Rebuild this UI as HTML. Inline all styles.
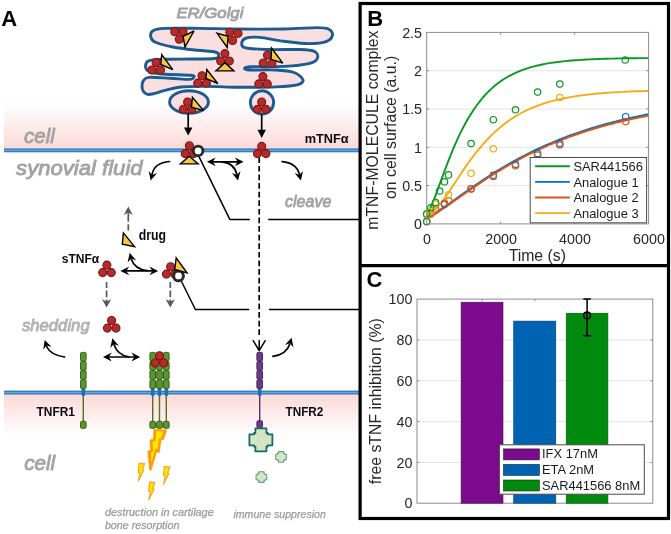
<!DOCTYPE html>
<html lang="en"><head><meta charset="utf-8"><title>Figure</title>
<style>
html,body{margin:0;padding:0;background:#fff}
svg{display:block}
text{font-family:"Liberation Sans",sans-serif}
.gi{font-style:italic;fill:#a3a3a3;stroke:#a3a3a3;stroke-width:0.85px;stroke-linejoin:round}
.gs{font-style:italic;fill:#9a9a9a;stroke:#9a9a9a;stroke-width:0.25px}
.bl{font-weight:bold;fill:#0a0a14}
.ax{fill:#262626;font-size:14.3px}
.lg{fill:#1a1a1a;font-size:12.9px}
.pl{font-weight:bold;fill:#000;font-size:22px}
</style></head><body>
<svg width="671" height="534" viewBox="0 0 671 534">
<defs>
<linearGradient id="gt" x1="0" y1="0" x2="0" y2="1"><stop offset="0" stop-color="#fbd9d8" stop-opacity="0"/><stop offset="1" stop-color="#fbd9d8"/></linearGradient>
<linearGradient id="gb" x1="0" y1="0" x2="0" y2="1"><stop offset="0" stop-color="#fbd9d8"/><stop offset="1" stop-color="#fbd9d8" stop-opacity="0"/></linearGradient>
<linearGradient id="gb2" x1="0" y1="0" x2="0" y2="1"><stop offset="0" stop-color="#fbd9d8" stop-opacity="0"/><stop offset="1" stop-color="#fbd9d8" stop-opacity="0.15"/></linearGradient>
</defs>
<rect width="671" height="534" fill="#fff"/>
<rect x="4" y="103" width="356" height="46" fill="url(#gt)"/>
<rect x="4" y="383" width="356" height="8" fill="url(#gb2)"/>
<rect x="4" y="394" width="356" height="41" fill="url(#gb)"/>
<path d="M150.7 36.4C150.4 34.5 150.8 32 153.1 30.7C155.4 29.4 156.8 28.8 164.6 28.4C172.4 28 188.3 28.3 200 28.4C211.7 28.5 221 28.9 235 29C249 29.1 270.3 29.2 284 29C297.7 28.8 309.6 27.6 317 27.6C324.4 27.6 325.8 27.8 328.4 29C331 30.2 332.8 32.8 332.5 34.8C332.2 36.8 330.8 39.8 326.8 41.3C322.9 42.8 315.9 43.6 308.8 43.6C301.7 43.6 292.4 42.3 284.2 41.3C276 40.3 265.9 37.9 259.6 37.4C253.3 36.9 249.5 37.1 246.5 38C243.5 38.9 242 41.4 241.8 43C241.6 44.6 241.2 46.8 245.5 47.9C249.8 49 258.6 49.2 267.8 49.5C277 49.8 293 49.2 300.6 49.5C308.2 49.8 310.8 49.9 313.7 51.1C316.6 52.3 318.1 55 317.8 56.9C317.5 58.8 316.2 61.1 312 62.6C307.8 64.1 299.8 65.2 292.4 65.9C285 66.6 274.9 66.6 267.8 66.7C260.7 66.8 253.9 66.4 250 66.7C246.1 67 244.5 67.9 244.5 68.4C244.5 69 244.8 69.7 250 70C255.2 70.3 268.7 69.6 276 70C283.3 70.4 289.5 70.9 294 72.5C298.5 74.1 302.4 77.8 303 79.8C303.6 81.8 301.8 83.6 297.3 84.8C292.8 86 283.6 86.5 276 86.9C268.4 87.3 258.2 87.2 251.4 87.2C244.6 87.2 242.6 87.3 235 87.2C227.4 87.1 214.6 86.4 205.6 86.4C196.6 86.4 187.8 86.3 181 87C174.2 87.7 169.5 89.2 165 90.3C160.5 91.4 156.9 92.9 154 93.6C151.1 94.3 149.3 94.8 147.5 94.4C145.7 94 144.2 92.7 143.3 91.3C142.4 89.9 142 87.8 142 86C142 84.2 142.3 81.9 143.5 80.5C144.7 79.1 144.6 77.8 149 77.4C153.4 77 163.3 77.9 170 78.2C176.7 78.5 185.3 79.5 189.2 79.4C193.1 79.3 193.3 78.1 193.6 77.4C193.9 76.7 195.6 75.7 190.8 75.2C186 74.7 171.3 74.7 164.6 74.2C157.9 73.7 153.6 73.3 150.5 72.4C147.4 71.5 147 70.2 146.2 69C145.4 67.8 145.4 66.2 145.6 65C145.8 63.8 146.3 62.4 147.5 61.5C148.7 60.6 150.2 60.3 153 59.9C155.8 59.5 158.4 59.4 164.6 59.3C170.8 59.1 181.7 59.1 190 59C198.3 58.9 209.7 59.1 214.5 58.5C219.3 57.9 218.6 56.3 218.7 55.2C218.8 54.1 218.6 52.8 215 52C211.4 51.2 204.4 51.1 197.4 50.3C190.4 49.5 179.9 48.4 172.8 47C165.7 45.6 158.7 43.8 155 42C151.3 40.2 151 38.3 150.7 36.4Z" fill="#f9dfdf" stroke="#1b5b90" stroke-width="2.9" stroke-linejoin="round"/>
<ellipse cx="189" cy="102" rx="19.4" ry="11.3" fill="#f9dfdf" stroke="#1b5b90" stroke-width="2.9"/>
<circle cx="262" cy="102.4" r="11.6" fill="#f9dfdf" stroke="#1b5b90" stroke-width="2.9"/>
<rect x="4" y="148.4" width="356" height="3.9" fill="#2f7fc3"/><rect x="4" y="149.8" width="356" height="1" fill="#72b0dc"/>
<rect x="4" y="390.6" width="356" height="3.9" fill="#2f7fc3"/><rect x="4" y="392.1" width="356" height="1" fill="#72b0dc"/>
<text x="176.4" y="18.1" class="gi" font-size="14.5" textLength="67" lengthAdjust="spacingAndGlyphs">ER/Golgi</text>
<text x="24.1" y="143" class="gi" font-size="19.5" textLength="30.7" lengthAdjust="spacingAndGlyphs">cell</text>
<text x="16.1" y="175.2" class="gi" font-size="20" textLength="126.5" lengthAdjust="spacingAndGlyphs">synovial fluid</text>
<text x="285" y="206.5" class="gi" font-size="17" textLength="46.3" lengthAdjust="spacingAndGlyphs">cleave</text>
<text x="21.9" y="331.4" class="gi" font-size="16.5" textLength="67.8" lengthAdjust="spacingAndGlyphs" style="fill:#b2b2b2;stroke:#b2b2b2">shedding</text>
<text x="24.3" y="470.1" class="gi" font-size="19.5" textLength="30.9" lengthAdjust="spacingAndGlyphs">cell</text>
<text x="104.9" y="515.5" class="gs" font-size="10.5" textLength="108.8" lengthAdjust="spacingAndGlyphs">destruction in cartilage</text>
<text x="104.9" y="529" class="gs" font-size="10.5" textLength="74.5" lengthAdjust="spacingAndGlyphs">bone resorption</text>
<text x="233.4" y="518" class="gs" font-size="10.5" textLength="92.5" lengthAdjust="spacingAndGlyphs">immune suppresion</text>
<text x="304.7" y="143.4" class="bl" font-size="12.2" textLength="43.9" lengthAdjust="spacingAndGlyphs">mTNFα</text>
<text x="138.7" y="239.6" class="bl" font-size="14" textLength="27.3" lengthAdjust="spacingAndGlyphs">drug</text>
<text x="61.7" y="263" class="bl" font-size="12" textLength="37.5" lengthAdjust="spacingAndGlyphs">sTNFα</text>
<text x="36.5" y="416.4" class="bl" font-size="12.3" textLength="38.4" lengthAdjust="spacingAndGlyphs">TNFR1</text>
<text x="285.5" y="416" class="bl" font-size="12.3" textLength="37.8" lengthAdjust="spacingAndGlyphs">TNFR2</text>
<text x="1.3" y="26.4" class="pl" font-size="22">A</text>
<g fill="none" stroke="#000" stroke-width="1.7" stroke-linecap="round" stroke-linejoin="round">
<path d="M188.2 113.6V129M261.7 114.6V131"/>
<path d="M199 156.6L229.8 219.4H249.9M268.2 219.4H359M181.5 281.5L195.4 309.5H249.2M269 309.5H359" stroke-linecap="butt" stroke-width="1.5"/>
<path d="M259.2 157.3V336" stroke-dasharray="5.7 2.9" stroke-linecap="butt" stroke-width="1.7"/>
<path d="M259.2 340.6V350M253.2 340.7L259.2 350.6L265.2 340.7" stroke-width="1.5"/>
<path d="M169.5 161.5Q154.5 162.5 152 174.5"/><path d="M150.7 180.6L148.6 171L152.1 175L157.1 173.1Z" fill="#000" stroke="none"/>
<path d="M212 161.8H238.5"/><path d="M206.9 161.8L215.7 157.4L212.7 161.8L215.7 166.2Z" fill="#000" stroke="none"/><path d="M243.6 161.8L234.8 166.2L237.8 161.8L234.8 157.4Z" fill="#000" stroke="none"/>
<path d="M222 161.8Q234.5 163 236.8 174.5"/><path d="M238 180.6L231.9 172.9L236.8 174.9L240.5 171.1Z" fill="#000" stroke="none"/>
<path d="M282.1 161.7Q296.5 163 299.5 174.5"/><path d="M300.9 180.6L294.5 173.1L299.5 175L303 171Z" fill="#000" stroke="none"/>
<path d="M126 270.9H153"/><path d="M120.4 270.9L129.2 266.5L126.2 270.9L129.2 275.3Z" fill="#000" stroke="none"/><path d="M158.2 270.9L149.4 275.3L152.4 270.9L149.4 266.5Z" fill="#000" stroke="none"/>
<path d="M147 270.6Q134.5 269 131.2 259"/><path d="M129.7 252.8L136.1 260.3L131.1 258.4L127.6 262.4Z" fill="#000" stroke="none"/>
<path d="M64.7 357Q50.5 355 46.6 346.5"/><path d="M44.7 340L51.6 347L46.5 345.5L43.2 349.7Z" fill="#000" stroke="none"/>
<path d="M108 357H135"/><path d="M103 357L111.8 352.6L108.8 357L111.8 361.4Z" fill="#000" stroke="none"/><path d="M140.2 357L131.4 361.4L134.4 357L131.4 352.6Z" fill="#000" stroke="none"/>
<path d="M128.5 356.8Q117.5 355 114 344.5"/><path d="M112.4 338.3L118.8 345.8L113.8 343.9L110.3 347.9Z" fill="#000" stroke="none"/>
<path d="M272.9 356.3Q286.5 354.5 289.8 344"/><path d="M291.6 337.7L293.4 347.4L290 343.3L284.9 344.9Z" fill="#000" stroke="none"/>
</g>
<path d="M188.2 135.5L184 127.6H192.4ZM261.7 138L257.5 129.8H265.9Z" fill="#000"/>
<g fill="none" stroke="#595959" stroke-width="1.7" stroke-linecap="round" stroke-linejoin="round">
<path d="M128.3 230.4V224.3M128.3 221.8V212" stroke-linecap="butt"/><path d="M128.3 206.6L132.8 215L128.3 212.6L123.8 215Z" fill="#595959" stroke="none"/>
<path d="M106.6 282V288M106.6 290.6V297.2M106.6 299.5V302" stroke-linecap="butt"/><path d="M106.6 307.4L102 299.2L106.6 301.4L111.2 299.2Z" fill="#595959" stroke="none"/>
<path d="M170.3 282V288M170.3 290.6V297.2M170.3 299.5V302" stroke-linecap="butt"/><path d="M170.3 307.4L165.7 299.2L170.3 301.4L174.9 299.2Z" fill="#595959" stroke="none"/>
</g>
<path d="M83.3 395V422" stroke="#5a6e1e" stroke-width="1.4"/><rect x="81.5" y="388.2" width="3.6" height="8" rx="1.4" fill="#1f6fb5"/><rect x="80.5" y="352.4" width="5.6" height="8.7" rx="1.3" fill="#5a9433" stroke="#376619" stroke-width="1"/><rect x="80.5" y="361.5" width="5.6" height="8.7" rx="1.3" fill="#5a9433" stroke="#376619" stroke-width="1"/><rect x="80.5" y="370.6" width="5.6" height="8.7" rx="1.3" fill="#5a9433" stroke="#376619" stroke-width="1"/><rect x="80.5" y="379.8" width="5.6" height="8.7" rx="1.3" fill="#5a9433" stroke="#376619" stroke-width="1"/><rect x="80.5" y="421.3" width="5.6" height="7" rx="1.3" fill="#5a9433" stroke="#376619" stroke-width="1"/>
<path d="M152.7 395V422" stroke="#5a6e1e" stroke-width="1.4"/><rect x="150.9" y="388.2" width="3.6" height="8" rx="1.4" fill="#1f6fb5"/><rect x="149.9" y="352.4" width="5.6" height="8.7" rx="1.3" fill="#5a9433" stroke="#376619" stroke-width="1"/><rect x="149.9" y="361.5" width="5.6" height="8.7" rx="1.3" fill="#5a9433" stroke="#376619" stroke-width="1"/><rect x="149.9" y="370.6" width="5.6" height="8.7" rx="1.3" fill="#5a9433" stroke="#376619" stroke-width="1"/><rect x="149.9" y="379.8" width="5.6" height="8.7" rx="1.3" fill="#5a9433" stroke="#376619" stroke-width="1"/><rect x="149.9" y="421.3" width="5.6" height="7" rx="1.3" fill="#5a9433" stroke="#376619" stroke-width="1"/>
<path d="M159.5 395V422" stroke="#5a6e1e" stroke-width="1.4"/><rect x="157.7" y="388.2" width="3.6" height="8" rx="1.4" fill="#1f6fb5"/><rect x="156.7" y="352.4" width="5.6" height="8.7" rx="1.3" fill="#5a9433" stroke="#376619" stroke-width="1"/><rect x="156.7" y="361.5" width="5.6" height="8.7" rx="1.3" fill="#5a9433" stroke="#376619" stroke-width="1"/><rect x="156.7" y="370.6" width="5.6" height="8.7" rx="1.3" fill="#5a9433" stroke="#376619" stroke-width="1"/><rect x="156.7" y="379.8" width="5.6" height="8.7" rx="1.3" fill="#5a9433" stroke="#376619" stroke-width="1"/><rect x="156.7" y="421.3" width="5.6" height="7" rx="1.3" fill="#5a9433" stroke="#376619" stroke-width="1"/>
<path d="M166.3 395V422" stroke="#5a6e1e" stroke-width="1.4"/><rect x="164.5" y="388.2" width="3.6" height="8" rx="1.4" fill="#1f6fb5"/><rect x="163.5" y="352.4" width="5.6" height="8.7" rx="1.3" fill="#5a9433" stroke="#376619" stroke-width="1"/><rect x="163.5" y="361.5" width="5.6" height="8.7" rx="1.3" fill="#5a9433" stroke="#376619" stroke-width="1"/><rect x="163.5" y="370.6" width="5.6" height="8.7" rx="1.3" fill="#5a9433" stroke="#376619" stroke-width="1"/><rect x="163.5" y="379.8" width="5.6" height="8.7" rx="1.3" fill="#5a9433" stroke="#376619" stroke-width="1"/><rect x="163.5" y="421.3" width="5.6" height="7" rx="1.3" fill="#5a9433" stroke="#376619" stroke-width="1"/>
<path d="M259.7 395V422" stroke="#5a2f72" stroke-width="1.4"/><rect x="257.9" y="388.2" width="3.6" height="8" rx="1.4" fill="#1f6fb5"/><rect x="256.9" y="352.4" width="5.6" height="8.7" rx="1.3" fill="#6c3b86" stroke="#4a2560" stroke-width="1"/><rect x="256.9" y="361.5" width="5.6" height="8.7" rx="1.3" fill="#6c3b86" stroke="#4a2560" stroke-width="1"/><rect x="256.9" y="370.6" width="5.6" height="8.7" rx="1.3" fill="#6c3b86" stroke="#4a2560" stroke-width="1"/><rect x="256.9" y="379.8" width="5.6" height="8.7" rx="1.3" fill="#6c3b86" stroke="#4a2560" stroke-width="1"/><rect x="256.9" y="420.8" width="5.6" height="7" rx="1.3" fill="#6c3b86" stroke="#4a2560" stroke-width="1"/>
<g fill="#b62a2a" stroke="#7c1515" stroke-width="1.1">
<circle cx="174.8" cy="31.8" r="4.0"/><circle cx="183" cy="31.8" r="4.0"/><circle cx="179.3" cy="39.3" r="4.0"/>
<circle cx="229.8" cy="32.3" r="4.0"/><circle cx="238" cy="33.4" r="4.0"/><circle cx="232.6" cy="40.5" r="4.0"/>
<circle cx="224.9" cy="53.6" r="4.0"/><circle cx="220.7" cy="61" r="4.0"/><circle cx="229.3" cy="61" r="4.0"/>
<circle cx="156.1" cy="62.6" r="4.0"/><circle cx="151.8" cy="70" r="4.0"/><circle cx="160.5" cy="70" r="4.0"/>
<circle cx="202" cy="75.7" r="4.0"/><circle cx="197.7" cy="83.1" r="4.0"/><circle cx="206.4" cy="83.1" r="4.0"/>
<circle cx="267.5" cy="55.2" r="4.0"/><circle cx="263.2" cy="63" r="4.0"/><circle cx="271.9" cy="63.4" r="4.0"/>
<circle cx="262.9" cy="76.6" r="4.0"/><circle cx="258.8" cy="83.9" r="4.0"/><circle cx="267.3" cy="83.9" r="4.0"/>
<circle cx="187.6" cy="102" r="4.0"/><circle cx="183.4" cy="109.2" r="4.0"/><circle cx="191.8" cy="109.2" r="4.0"/>
<circle cx="261.7" cy="102" r="4.0"/><circle cx="257.5" cy="109.2" r="4.0"/><circle cx="265.9" cy="109.2" r="4.0"/>
<circle cx="189.4" cy="145.8" r="4.0"/><circle cx="185.2" cy="153.6" r="4.0"/><circle cx="193.6" cy="153.6" r="4.0"/>
<circle cx="261.7" cy="146.4" r="4.0"/><circle cx="257.5" cy="153.6" r="4.0"/><circle cx="265.9" cy="153.6" r="4.0"/>
<circle cx="106.9" cy="265.1" r="4.0"/><circle cx="102.7" cy="272.6" r="4.0"/><circle cx="111.3" cy="272.6" r="4.0"/>
<circle cx="170.6" cy="266.8" r="4.0"/><circle cx="166.4" cy="274.1" r="4.0"/><circle cx="174.8" cy="274.1" r="4.0"/>
<circle cx="111.6" cy="320.5" r="4.0"/><circle cx="107.4" cy="328.1" r="4.0"/><circle cx="116" cy="328.1" r="4.0"/>
<circle cx="159.5" cy="355.8" r="4.0"/><circle cx="155.2" cy="363" r="4.0"/><circle cx="163.7" cy="363" r="4.0"/>
</g>
<circle cx="198.1" cy="150.9" r="4.8" fill="#fff" stroke="#2a2a2a" stroke-width="2.9"/><circle cx="178.5" cy="275.9" r="4.9" fill="#fff" stroke="#2a2a2a" stroke-width="3"/>
<g fill="#f7c744" stroke="#000" stroke-width="1.4" stroke-linejoin="miter" stroke-miterlimit="3">
<path d="M194 31L183.1 36.4L185 46.9Z"/>
<path d="M217.1 33.3L228.1 36.3L227.2 47.5Z"/>
<path d="M215.9 70.9L233.9 70.9L224.9 62.8Z"/>
<path d="M161.7 54.7L160.8 64.5L172.8 69.7Z"/>
<path d="M206.8 69.5L205.9 78.3L217.8 83.5Z"/>
<path d="M271.5 48.1L271 59.3L282.8 63.1Z"/>
<path d="M192.4 97.2L191.5 107.3L203.6 110.6Z"/>
<path d="M180.3 163.9L198.2 163.9L189.3 156.3Z"/>
<path d="M123.4 232.9L122.3 244.3L134.6 246.6Z"/>
<path d="M176.2 257.8L174.7 269.5L187 272.9Z"/>
</g>
<path d="M153.8 429.2L166.9 429.9L163.4 439.9L161.2 439.3L159.4 452.6L156.6 451.9L151 470.6L149.4 469.5L147.8 451L150.5 450.4L149.9 439.9L153.3 439.3Z" fill="#ff9a0a" stroke="#ff9a0a" stroke-width="0.6" stroke-linejoin="round"/>
<path d="M156.4 431L163.6 431.5L161 438.2L159.2 437.8L157.6 449.2L155.4 448.6L151.9 461L151.3 460.6L150.9 452.6L153 452L152.7 441.6L155.6 441Z" fill="#ffe800"/>
<path d="M139.1 463.3L144.6 463.7L142.4 469.9L143.8 470.1L138.4 480.9L140.1 472.5L138.3 472.3Z" fill="#ffe800" stroke="#ffa51e" stroke-width="1.2" stroke-linejoin="round"/>
<path d="M164.3 466.5L169.8 466.9L167.6 473.1L169 473.3L163.6 484.1L165.3 475.7L163.5 475.5Z" fill="#ffe800" stroke="#ffa51e" stroke-width="1.2" stroke-linejoin="round"/>
<path d="M149.5 482.2L155 482.6L152.8 488.8L154.2 489L148.8 499.8L150.5 491.4L148.7 491.2Z" fill="#ffe800" stroke="#ffa51e" stroke-width="1.2" stroke-linejoin="round"/>
<path d="M255.4 428.3L266.4 428.3L266.4 433L267.7 433L267.7 434.3L272.4 434.3L272.4 445.3L267.7 445.3L267.7 446.6L266.4 446.6L266.4 451.3L255.4 451.3L255.4 446.6L254.1 446.6L254.1 445.3L249.4 445.3L249.4 434.3L254.1 434.3L254.1 433L255.4 433Z" fill="#d5e4c3" stroke="#146a6e" stroke-width="1.8" stroke-linejoin="round"/>
<path d="M278.4 451.6L283.6 451.6L283.6 453.4L284.5 453.4L284.5 454.3L286.3 454.3L286.3 459.5L284.5 459.5L284.5 460.4L283.6 460.4L283.6 462.2L278.4 462.2L278.4 460.4L277.5 460.4L277.5 459.5L275.7 459.5L275.7 454.3L277.5 454.3L277.5 453.4L278.4 453.4Z" fill="#d5e4c3" stroke="#5fa58c" stroke-width="1.1" stroke-linejoin="round"/>
<path d="M258.8 471.8L264 471.8L264 473.6L264.9 473.6L264.9 474.5L266.7 474.5L266.7 479.7L264.9 479.7L264.9 480.6L264 480.6L264 482.4L258.8 482.4L258.8 480.6L257.9 480.6L257.9 479.7L256.1 479.7L256.1 474.5L257.9 474.5L257.9 473.6L258.8 473.6Z" fill="#d5e4c3" stroke="#5fa58c" stroke-width="1.1" stroke-linejoin="round"/>
<rect x="360.1" y="3.5" width="308.4" height="515" fill="#fff" stroke="#000" stroke-width="3.2"/>
<path d="M360 265.6H668.5" stroke="#000" stroke-width="3.4"/>
<text x="367.2" y="26.4" class="pl" font-size="22">B</text>
<text x="366.6" y="287.3" class="pl" font-size="22">C</text>
<g stroke="#e4e4e4" stroke-width="1"><path d="M426.7 185.6H648.6"/><path d="M426.7 147.3H648.6"/><path d="M426.7 109H648.6"/><path d="M426.7 70.7H648.6"/></g>
<g fill="none" stroke-width="1.9" stroke-linejoin="round"><path d="M426.7 213.5L429.7 209.5L432.6 203L435.6 195.4L438.5 187.4L441.5 179.2L444.5 171.2L447.4 163.3L450.4 155.8L453.3 148.6L456.3 141.8L459.2 135.4L462.2 129.4L465.2 123.8L468.1 118.5L471.1 113.7L474 109.2L477 105L480 101.1L482.9 97.5L485.9 94.2L488.8 91.2L491.8 88.4L494.7 85.8L497.7 83.5L500.7 81.3L503.6 79.3L506.6 77.5L509.5 75.8L512.5 74.3L515.5 72.9L518.4 71.6L521.4 70.4L524.3 69.3L527.3 68.3L530.3 67.4L533.2 66.6L536.2 65.8L539.1 65.2L542.1 64.5L545 63.9L548 63.4L551 62.9L553.9 62.5L556.9 62.1L559.8 61.7L562.8 61.4L565.8 61.1L568.7 60.8L571.7 60.5L574.6 60.3L577.6 60.1L580.6 59.9L583.5 59.7L586.5 59.5L589.4 59.4L592.4 59.2L595.3 59.1L598.3 59L601.3 58.9L604.2 58.8L607.2 58.7L610.1 58.6L613.1 58.6L616.1 58.5L619 58.4L622 58.4L624.9 58.3L627.9 58.3L630.8 58.2L633.8 58.2L636.8 58.2L639.7 58.1L642.7 58.1L645.6 58.1L648.6 58.1" stroke="#0a9a22"/><path d="M426.7 216.9L429.7 215.8L432.6 214.4L435.6 212.7L438.5 210.8L441.5 208.9L444.5 206.9L447.4 204.8L450.4 202.8L453.3 200.7L456.3 198.6L459.2 196.5L462.2 194.3L465.2 192.2L468.1 190.2L471.1 188.1L474 186L477 184L480 182L482.9 180L485.9 178.1L488.8 176.2L491.8 174.3L494.7 172.4L497.7 170.6L500.7 168.8L503.6 167L506.6 165.3L509.5 163.6L512.5 161.9L515.5 160.3L518.4 158.6L521.4 157.1L524.3 155.5L527.3 154L530.3 152.5L533.2 151.1L536.2 149.7L539.1 148.3L542.1 146.9L545 145.6L548 144.3L551 143L553.9 141.8L556.9 140.5L559.8 139.3L562.8 138.2L565.8 137.1L568.7 135.9L571.7 134.9L574.6 133.8L577.6 132.8L580.6 131.8L583.5 130.8L586.5 129.8L589.4 128.9L592.4 128L595.3 127.1L598.3 126.2L601.3 125.3L604.2 124.5L607.2 123.7L610.1 122.9L613.1 122.1L616.1 121.4L619 120.6L622 119.9L624.9 119.2L627.9 118.6L630.8 117.9L633.8 117.2L636.8 116.6L639.7 116L642.7 115.4L645.6 114.8L648.6 114.2" stroke="#0072bd"/><path d="M426.7 217.8L429.7 216.8L432.6 215.3L435.6 213.6L438.5 211.7L441.5 209.8L444.5 207.8L447.4 205.8L450.4 203.7L453.3 201.6L456.3 199.5L459.2 197.4L462.2 195.4L465.2 193.3L468.1 191.2L471.1 189.1L474 187.1L477 185.1L480 183.1L482.9 181.1L485.9 179.2L488.8 177.3L491.8 175.4L494.7 173.5L497.7 171.7L500.7 169.9L503.6 168.1L506.6 166.4L509.5 164.7L512.5 163L515.5 161.4L518.4 159.8L521.4 158.2L524.3 156.7L527.3 155.2L530.3 153.7L533.2 152.3L536.2 150.9L539.1 149.5L542.1 148.1L545 146.8L548 145.5L551 144.2L553.9 143L556.9 141.8L559.8 140.6L562.8 139.4L565.8 138.3L568.7 137.2L571.7 136.1L574.6 135.1L577.6 134L580.6 133L583.5 132.1L586.5 131.1L589.4 130.2L592.4 129.3L595.3 128.4L598.3 127.5L601.3 126.7L604.2 125.8L607.2 125L610.1 124.2L613.1 123.5L616.1 122.7L619 122L622 121.3L624.9 120.6L627.9 119.9L630.8 119.2L633.8 118.6L636.8 118L639.7 117.3L642.7 116.7L645.6 116.2L648.6 115.6" stroke="#e0531a"/><path d="M426.7 214.5L429.7 213.8L432.6 212L435.6 209.4L438.5 206.2L441.5 202.5L444.5 198.4L447.4 194.1L450.4 189.7L453.3 185.2L456.3 180.7L459.2 176.2L462.2 171.7L465.2 167.4L468.1 163.2L471.1 159.1L474 155.2L477 151.4L480 147.8L482.9 144.3L485.9 141L488.8 137.9L491.8 134.9L494.7 132.1L497.7 129.5L500.7 126.9L503.6 124.6L506.6 122.3L509.5 120.2L512.5 118.3L515.5 116.4L518.4 114.7L521.4 113L524.3 111.5L527.3 110L530.3 108.7L533.2 107.4L536.2 106.3L539.1 105.1L542.1 104.1L545 103.1L548 102.2L551 101.4L553.9 100.6L556.9 99.9L559.8 99.2L562.8 98.6L565.8 98L568.7 97.4L571.7 96.9L574.6 96.4L577.6 95.9L580.6 95.5L583.5 95.1L586.5 94.8L589.4 94.4L592.4 94.1L595.3 93.8L598.3 93.5L601.3 93.3L604.2 93L607.2 92.8L610.1 92.6L613.1 92.4L616.1 92.2L619 92.1L622 91.9L624.9 91.8L627.9 91.6L630.8 91.5L633.8 91.4L636.8 91.3L639.7 91.2L642.7 91.1L645.6 91L648.6 90.9" stroke="#f5ac14"/></g>
<g fill="none" stroke-width="1.2"><circle cx="444.5" cy="204.3" r="3.2" stroke="#0072bd"/><circle cx="471.1" cy="188.7" r="3.2" stroke="#0072bd"/><circle cx="493.3" cy="175.3" r="3.2" stroke="#0072bd"/><circle cx="515.5" cy="164.2" r="3.2" stroke="#0072bd"/><circle cx="537.6" cy="153.4" r="3.2" stroke="#0072bd"/><circle cx="559.8" cy="143.5" r="3.2" stroke="#0072bd"/><circle cx="625.7" cy="116.7" r="3.2" stroke="#0072bd"/><circle cx="426.7" cy="221.6" r="3.2" stroke="#e0531a"/><circle cx="430.8" cy="213.9" r="3.2" stroke="#e0531a"/><circle cx="435.6" cy="209.3" r="3.2" stroke="#e0531a"/><circle cx="444.5" cy="203.2" r="3.2" stroke="#e0531a"/><circle cx="448.9" cy="200.9" r="3.2" stroke="#e0531a"/><circle cx="471.1" cy="188.9" r="3.2" stroke="#e0531a"/><circle cx="493.3" cy="176.4" r="3.2" stroke="#e0531a"/><circle cx="515.5" cy="165.7" r="3.2" stroke="#e0531a"/><circle cx="537.6" cy="155" r="3.2" stroke="#e0531a"/><circle cx="559.8" cy="145" r="3.2" stroke="#e0531a"/><circle cx="625.7" cy="121.6" r="3.2" stroke="#e0531a"/><circle cx="426.7" cy="214.7" r="3.2" stroke="#f5ac14"/><circle cx="430.8" cy="211.6" r="3.2" stroke="#f5ac14"/><circle cx="435.6" cy="204" r="3.2" stroke="#f5ac14"/><circle cx="448.5" cy="194.8" r="3.2" stroke="#f5ac14"/><circle cx="471.1" cy="173.3" r="3.2" stroke="#f5ac14"/><circle cx="493.3" cy="148.8" r="3.2" stroke="#f5ac14"/><circle cx="559.8" cy="97.5" r="3.2" stroke="#f5ac14"/><circle cx="426.7" cy="221.6" r="3.2" stroke="#0a9a22"/><circle cx="426.7" cy="213.9" r="3.2" stroke="#0a9a22"/><circle cx="430.8" cy="207.8" r="3.2" stroke="#0a9a22"/><circle cx="435.6" cy="202.5" r="3.2" stroke="#0a9a22"/><circle cx="439.6" cy="191" r="3.2" stroke="#0a9a22"/><circle cx="444.5" cy="181.8" r="3.2" stroke="#0a9a22"/><circle cx="448.5" cy="174.9" r="3.2" stroke="#0a9a22"/><circle cx="471.1" cy="143.5" r="3.2" stroke="#0a9a22"/><circle cx="493.3" cy="119.7" r="3.2" stroke="#0a9a22"/><circle cx="515.5" cy="109.8" r="3.2" stroke="#0a9a22"/><circle cx="537.6" cy="92.1" r="3.2" stroke="#0a9a22"/><circle cx="559.8" cy="84.1" r="3.2" stroke="#0a9a22"/><circle cx="625.3" cy="60" r="3.2" stroke="#0a9a22"/></g>
<rect x="426.7" y="32.4" width="221.9" height="191.5" fill="none" stroke="#8c8c8c" stroke-width="1"/>
<g stroke="#8c8c8c" stroke-width="1"><path d="M426.7 185.6h2.4M648.6 185.6h-2.4"/><path d="M426.7 147.3h2.4M648.6 147.3h-2.4"/><path d="M426.7 109h2.4M648.6 109h-2.4"/><path d="M426.7 70.7h2.4M648.6 70.7h-2.4"/><path d="M500.7 223.9v-2.4M500.7 32.4v2.4"/><path d="M574.6 223.9v-2.4M574.6 32.4v2.4"/></g>
<text x="422" y="229.1" class="ax" text-anchor="end">0</text><text x="422" y="190.8" class="ax" text-anchor="end">0.5</text><text x="422" y="152.5" class="ax" text-anchor="end">1</text><text x="422" y="114.2" class="ax" text-anchor="end">1.5</text><text x="422" y="75.9" class="ax" text-anchor="end">2</text><text x="422" y="37.6" class="ax" text-anchor="end">2.5</text><text x="427.1" y="243.5" class="ax" text-anchor="middle">0</text><text x="501.1" y="243.5" class="ax" text-anchor="middle">2000</text><text x="575" y="243.5" class="ax" text-anchor="middle">4000</text><text x="649" y="243.5" class="ax" text-anchor="middle">6000</text>
<text x="537.3" y="260.6" class="ax" text-anchor="middle" style="font-size:15.8px">Time (s)</text>
<text transform="translate(378.1 130.1) rotate(-90)" class="ax" text-anchor="middle" style="font-size:15.8px">mTNF-MOLECULE complex</text>
<text transform="translate(395.5 127.4) rotate(-90)" class="ax" text-anchor="middle" style="font-size:15.8px">on cell surface (a.u.)</text>
<rect x="530.2" y="157.5" width="116.4" height="65.3" fill="#fff" stroke="#4a4a4a" stroke-width="1"/>
<path d="M535.1 166.3H569.9" stroke="#0a9a22" stroke-width="1.9"/><text x="573.4" y="170.9" class="lg">SAR441566</text>
<path d="M535.1 181.9H569.9" stroke="#0072bd" stroke-width="1.9"/><text x="573.4" y="186.5" class="lg">Analogue 1</text>
<path d="M535.1 197.5H569.9" stroke="#e0531a" stroke-width="1.9"/><text x="573.4" y="202.1" class="lg">Analogue 2</text>
<path d="M535.1 213.1H569.9" stroke="#f5ac14" stroke-width="1.9"/><text x="573.4" y="217.7" class="lg">Analogue 3</text>
<g stroke="#e4e4e4" stroke-width="1"><path d="M417 462.4H652.8"/><path d="M417 421.6H652.8"/><path d="M417 380.7H652.8"/><path d="M417 339.9H652.8"/></g>
<rect x="417" y="299.1" width="235.8" height="204.1" fill="none" stroke="#8c8c8c" stroke-width="1"/>
<g stroke="#8c8c8c" stroke-width="1"><path d="M417 462.4h2.4M652.8 462.4h-2.4"/><path d="M417 421.6h2.4M652.8 421.6h-2.4"/><path d="M417 380.7h2.4M652.8 380.7h-2.4"/><path d="M417 339.9h2.4M652.8 339.9h-2.4"/><path d="M482 299.1v2.4"/><path d="M534.8 299.1v2.4"/><path d="M587.1 299.1v2.4"/></g>
<rect x="461.1" y="302.2" width="41.9" height="201" fill="#7b0a8d" stroke="#4d0658" stroke-width="0.6"/><rect x="513.7" y="321.1" width="42.1" height="182.1" fill="#0063b2" stroke="#003f73" stroke-width="0.6"/><rect x="566.2" y="313.2" width="41.7" height="190" fill="#008a0e" stroke="#00570a" stroke-width="0.6"/>
<path d="M587.1 299.1V335.8M583.3 299.1h7.6M583.3 335.8h7.6" stroke="#000" stroke-width="1.5" fill="none"/><circle cx="587.1" cy="315.4" r="3.4" fill="none" stroke="#000" stroke-width="1.4"/>
<text x="412.4" y="508.4" class="ax" text-anchor="end">0</text><text x="412.4" y="467.6" class="ax" text-anchor="end">20</text><text x="412.4" y="426.8" class="ax" text-anchor="end">40</text><text x="412.4" y="385.9" class="ax" text-anchor="end">60</text><text x="412.4" y="345.1" class="ax" text-anchor="end">80</text><text x="412.4" y="304.3" class="ax" text-anchor="end">100</text>
<text transform="translate(380.6 401.2) rotate(-90)" class="ax" text-anchor="middle" style="font-size:15.8px">free sTNF inhibition (%)</text>
<rect x="499.4" y="444.8" width="144.9" height="49.4" fill="#fff" stroke="#4a4a4a" stroke-width="1"/>
<rect x="503.5" y="448.9" width="35.9" height="11" fill="#7b0a8d" stroke="#222" stroke-width="0.6"/><text x="542" y="458.4" class="lg">IFX 17nM</text>
<rect x="503.5" y="464.4" width="35.9" height="11" fill="#0063b2" stroke="#222" stroke-width="0.6"/><text x="542" y="473.9" class="lg">ETA 2nM</text>
<rect x="503.5" y="480" width="35.9" height="11" fill="#008a0e" stroke="#222" stroke-width="0.6"/><text x="542" y="489.5" class="lg">SAR441566 8nM</text>
</svg>
</body></html>
